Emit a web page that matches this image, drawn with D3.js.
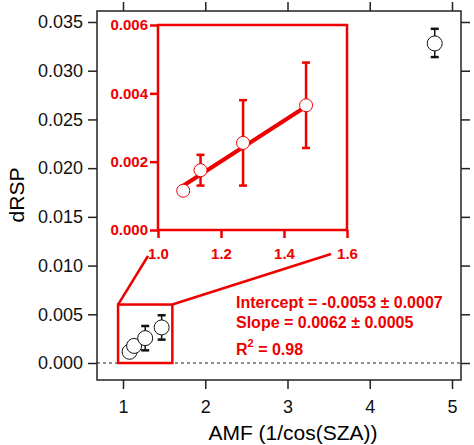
<!DOCTYPE html><html><head><script src="https://cdn.jsdelivr.net/npm/d3@7"></script>
<style>body{margin:0;background:#fff}text{font-family:"Liberation Sans",Arial,sans-serif}</style></head><body>
<svg id="c" width="474" height="445"></svg>
<script>
const amf=[1.08,1.135,1.27,1.47,4.79];
const drsp=[0.00115,0.00175,0.00255,0.00365,0.0328];
const errLo=[0.00115,0.0013,0.0013,0.0024,0.0314];
const errHi=[0.00115,0.0022,0.0038,0.0049,0.0343];
const fitX=[1.08,1.47];
const intercept=-0.0053, slope=0.0062;
const mainXTicks=[1,2,3,4,5];
const mainYTicks=[0,0.005,0.010,0.015,0.020,0.025,0.030,0.035];
const insetXTicks=[1.0,1.2,1.4,1.6];
const insetYTicks=[0,0.002,0.004,0.006];
const labels=["Intercept = -0.0053 ± 0.0007","Slope = 0.0062 ± 0.0005"];

const svg=d3.select("#c");
const L=97,R=461,T=11,B=380;
const x=d3.scaleLinear().domain([1,5]).range([123,452]);
const y=d3.scaleLinear().domain([0,0.035]).range([363,22]);
svg.append("rect").attr("x",L).attr("y",T).attr("width",R-L).attr("height",B-T).attr("fill","none").attr("stroke","#222").attr("stroke-width",1.5);
const ax=(g,t)=>{g.select(".domain").remove();g.selectAll("line").attr("stroke","#222").attr("stroke-width",1.5);g.selectAll("text").attr("font-size",t).attr("fill","#111");};
svg.append("g").attr("transform",`translate(0,${B})`).call(d3.axisBottom(x).tickValues(mainXTicks).tickSize(9).tickPadding(11).tickFormat(d3.format("d"))).call(g=>ax(g,18));
svg.append("g").attr("transform",`translate(0,${T})`).call(d3.axisTop(x).tickValues(mainXTicks).tickSize(9).tickFormat("")).call(g=>ax(g,18));
svg.append("g").attr("transform",`translate(${L},0)`).call(d3.axisLeft(y).tickValues(mainYTicks).tickSize(9).tickPadding(5).tickFormat(d3.format(".3f"))).call(g=>ax(g,18));
svg.append("g").attr("transform",`translate(${R},0)`).call(d3.axisRight(y).tickValues(mainYTicks).tickSize(9).tickFormat("")).call(g=>ax(g,18));
svg.append("line").attr("x1",L).attr("x2",R).attr("y1",y(0)).attr("y2",y(0)).attr("stroke","#222").attr("stroke-dasharray","3,3");
svg.append("text").attr("x",293).attr("y",440).attr("text-anchor","middle").attr("font-size",21).text("AMF (1/cos(SZA))");
svg.append("text").attr("transform","translate(24,195) rotate(-90)").attr("text-anchor","middle").attr("font-size",21).text("dRSP");
const zx0=0.94,zx1=1.6;
svg.append("rect").attr("x",x(zx0)).attr("y",y(0.006)).attr("width",x(zx1)-x(zx0)).attr("height",y(0)-y(0.006)).attr("fill","none").attr("stroke","#e00").attr("stroke-width",2.5);
amf.forEach((a,i)=>{
  const g=svg.append("g");
  if(errHi[i]>errLo[i]){
    g.append("line").attr("x1",x(a)).attr("x2",x(a)).attr("y1",y(errLo[i])).attr("y2",y(errHi[i])).attr("stroke","#111").attr("stroke-width",1.5);
    [errLo[i],errHi[i]].forEach(v=>g.append("line").attr("x1",x(a)-4).attr("x2",x(a)+4).attr("y1",y(v)).attr("y2",y(v)).attr("stroke","#111").attr("stroke-width",2.5));
  }
  g.append("circle").attr("cx",x(a)).attr("cy",y(drsp[i])).attr("r",7.5).attr("fill","#fff").attr("stroke","#111").attr("stroke-width",1);
});
const ix=d3.scaleLinear().domain([1.0,1.6]).range([158,347]);
const iy=d3.scaleLinear().domain([0,0.006]).range([230,25]);
svg.append("line").attr("x1",x(zx0)).attr("y1",y(0.006)).attr("x2",ix(1.0)-10).attr("y2",256).attr("stroke","#e00").attr("stroke-width",2.5);
svg.append("line").attr("x1",x(zx1)).attr("y1",y(0.006)).attr("x2",ix(1.6)-16).attr("y2",254).attr("stroke","#e00").attr("stroke-width",2.5);
svg.append("rect").attr("x",ix(1.0)).attr("y",iy(0.006)).attr("width",ix(1.6)-ix(1.0)).attr("height",iy(0)-iy(0.006)).attr("fill","#fff").attr("stroke","#e00").attr("stroke-width",2.5);
const rax=g=>{g.select(".domain").remove();g.selectAll("line").attr("stroke","#e00").attr("stroke-width",2.5);g.selectAll("text").attr("font-size",15).attr("font-weight","bold").attr("fill","#e00");};
svg.append("g").attr("transform",`translate(0,${iy(0)})`).call(d3.axisBottom(ix).tickValues(insetXTicks).tickSize(8).tickPadding(10).tickFormat(d3.format(".1f"))).call(rax);
svg.append("g").attr("transform",`translate(${ix(1.0)},0)`).call(d3.axisLeft(iy).tickValues(insetYTicks).tickSize(8).tickPadding(2).tickFormat(d3.format(".3f"))).call(rax);
svg.append("line").attr("x1",ix(fitX[0])).attr("x2",ix(fitX[1])).attr("y1",iy(intercept+slope*fitX[0]-0.0001)).attr("y2",iy(intercept+slope*fitX[1]-0.0002)).attr("stroke","#e00").attr("stroke-width",4);
amf.slice(0,4).forEach((a,i)=>{
  if(errHi[i]>errLo[i]){
    svg.append("line").attr("x1",ix(a)).attr("x2",ix(a)).attr("y1",iy(errLo[i])).attr("y2",iy(errHi[i])).attr("stroke","#e00").attr("stroke-width",2.5);
    [errLo[i],errHi[i]].forEach(v=>svg.append("line").attr("x1",ix(a)-4).attr("x2",ix(a)+4).attr("y1",iy(v)).attr("y2",iy(v)).attr("stroke","#e00").attr("stroke-width",2.5));
  }
  svg.append("circle").attr("cx",ix(a)).attr("cy",iy(drsp[i])).attr("r",6.5).attr("fill","#fff").attr("stroke","#e00").attr("stroke-width",1);
});
labels.forEach((t,i)=>svg.append("text").attr("x",236).attr("y",308+i*20).attr("font-size",16).attr("font-weight","bold").attr("fill","#e00").text(t));
const r2=svg.append("text").attr("x",236).attr("y",355).attr("font-size",16).attr("font-weight","bold").attr("fill","#e00");
r2.append("tspan").text("R");r2.append("tspan").attr("dy",-8).attr("font-size",11).text("2");r2.append("tspan").attr("dy",8).text(" = 0.98");
</script></body></html>
